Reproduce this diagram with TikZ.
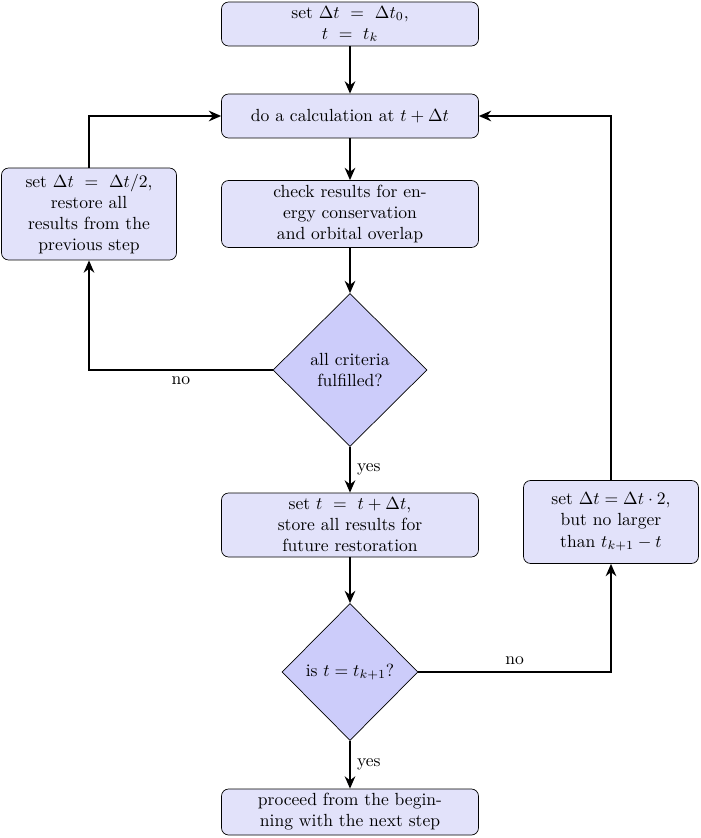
\documentclass[tikz,border=0pt]{standalone}
\usetikzlibrary{shapes.geometric,arrows.meta}
\begin{document}
\begin{tikzpicture}[x={(0.02cm,0)},y={(0,-0.02cm)},
  box/.style={draw,rounded corners=4pt,fill={rgb,255:red,226;green,226;blue,250},align=center,inner sep=0pt},
  dia/.style={draw,diamond,fill={rgb,255:red,204;green,204;blue,250},align=center,inner sep=0pt},
  arr/.style={line width=1.4pt,-{Stealth[length=7pt,width=6pt]}},
  lbl/.style={font=\normalsize}]
\useasboundingbox (0,0) rectangle (700,838);
\node[box,minimum width=5.14cm,minimum height=0.88cm] (a) at (350,24) {set $\Delta t\ =\ \Delta t_0$,\\ $t\ =\ t_k$};
\node[box,minimum width=5.14cm,minimum height=0.88cm] (b) at (350,116) {do a calculation at $t+\Delta t$};
\node[box,minimum width=5.14cm,minimum height=1.34cm] (c) at (350,214) {check results for en-\\ergy conservation\\and orbital overlap};
\node[box,minimum width=3.5cm,minimum height=1.84cm] (l) at (89,214) {set $\Delta t\ =\ \Delta t/2$,\\restore all\\results from the\\previous step};
\node[dia,minimum width=3.08cm,minimum height=3.06cm] (d) at (350,370) {all criteria\\fulfilled?};
\node[box,minimum width=5.14cm,minimum height=1.28cm] (s) at (350,525) {set $t\ =\ t+\Delta t$,\\store all results for\\future restoration};
\node[box,minimum width=3.5cm,minimum height=1.66cm] (r) at (611,522) {set $\Delta t = \Delta t\cdot 2$,\\but no larger\\than $t_{k+1}-t$};
\node[dia,minimum width=2.72cm,minimum height=2.74cm] (e) at (350,672) {is $t=t_{k+1}$?};
\node[box,minimum width=5.14cm,minimum height=0.92cm] (f) at (350,812) {proceed from the begin-\\ning with the next step};
\draw[arr] (a) -- (b);
\draw[arr] (b) -- (c);
\draw[arr] (c) -- (d);
\draw[arr] (d.west) -| node[pos=0.25,below,lbl]{no} (l.south);
\draw[arr] (l.north) |- (b.west);
\draw[arr] (d.south) -- node[right,lbl]{yes} (s.north);
\draw[arr] (s) -- (e);
\draw[arr] (e.east) -| node[pos=0.25,above,lbl]{no} (r.south);
\draw[arr] (r.north) |- (b.east);
\draw[arr] (e.south) -- node[right,lbl]{yes} (f.north);
\end{tikzpicture}
\end{document}
